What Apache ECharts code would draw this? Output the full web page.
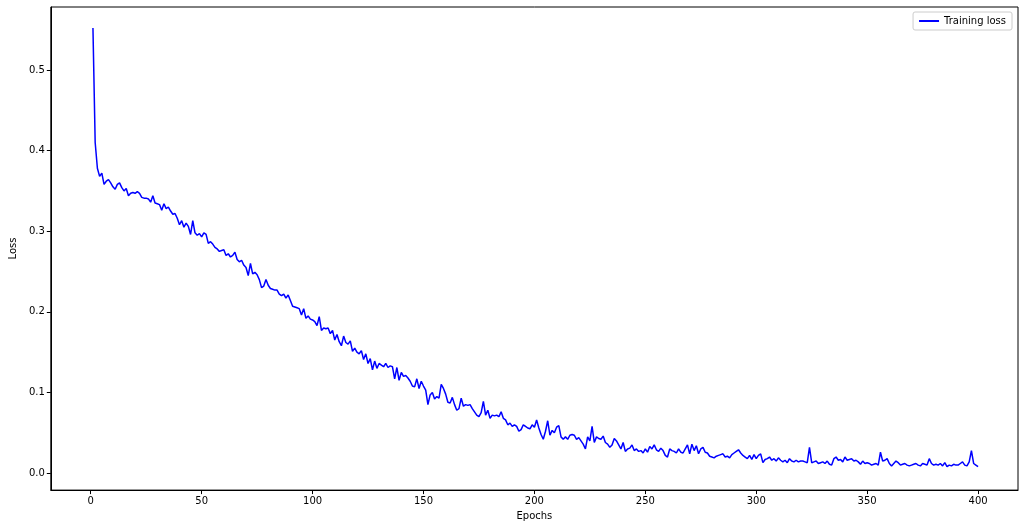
<!DOCTYPE html>
<html>
<head>
<meta charset="utf-8">
<script src="https://cdn.jsdelivr.net/npm/echarts@6/dist/echarts.min.js"></script>
<style>html,body{margin:0;padding:0;background:#fff}#chart{width:1024px;height:526px}</style>
</head>
<body>
<div id="chart"></div>
<script>
// training loss per epoch
const lossValues = [
  0.552,0.410,0.378,0.368,0.372,0.358,0.362,0.364,0.360,0.355,
  0.352,0.358,0.360,0.354,0.350,0.353,0.344,0.347,0.348,0.347,
  0.349,0.347,0.342,0.341,0.341,0.340,0.336,0.344,0.335,0.334,
  0.333,0.326,0.334,0.328,0.330,0.325,0.321,0.322,0.316,0.308,
  0.313,0.305,0.310,0.306,0.296,0.313,0.298,0.295,0.297,0.293,
  0.298,0.296,0.285,0.287,0.284,0.280,0.278,0.275,0.276,0.277,
  0.270,0.272,0.268,0.270,0.274,0.265,0.262,0.264,0.258,0.255,
  0.245,0.260,0.247,0.249,0.246,0.240,0.230,0.232,0.240,0.233,
  0.229,0.228,0.227,0.227,0.222,0.220,0.222,0.217,0.221,0.214,
  0.207,0.206,0.205,0.204,0.196,0.204,0.192,0.195,0.191,0.190,
  0.188,0.183,0.194,0.177,0.180,0.179,0.180,0.173,0.177,0.165,
  0.172,0.163,0.158,0.170,0.162,0.160,0.164,0.151,0.155,0.150,
  0.148,0.152,0.141,0.148,0.136,0.142,0.128,0.139,0.130,0.136,
  0.134,0.132,0.136,0.131,0.133,0.132,0.117,0.131,0.115,0.125,
  0.120,0.121,0.118,0.114,0.108,0.107,0.117,0.105,0.114,0.108,
  0.103,0.085,0.097,0.100,0.092,0.095,0.093,0.110,0.105,0.098,
  0.088,0.087,0.094,0.085,0.078,0.080,0.093,0.083,0.085,0.084,
  0.085,0.080,0.076,0.072,0.070,0.075,0.089,0.072,0.078,0.068,
  0.072,0.071,0.072,0.070,0.076,0.068,0.066,0.060,0.062,0.058,
  0.060,0.058,0.052,0.054,0.060,0.058,0.056,0.055,0.060,0.057,
  0.066,0.056,0.048,0.042,0.052,0.065,0.047,0.053,0.050,0.057,
  0.059,0.045,0.042,0.045,0.042,0.047,0.048,0.047,0.042,0.044,
  0.040,0.036,0.030,0.045,0.040,0.058,0.038,0.045,0.043,0.042,
  0.046,0.038,0.036,0.032,0.035,0.043,0.040,0.035,0.030,0.038,
  0.027,0.030,0.031,0.035,0.028,0.030,0.027,0.028,0.025,0.030,
  0.026,0.033,0.030,0.035,0.029,0.027,0.031,0.028,0.022,0.020,
  0.030,0.028,0.027,0.025,0.030,0.026,0.025,0.030,0.035,0.024,
  0.036,0.028,0.034,0.024,0.030,0.032,0.026,0.025,0.021,0.020,
  0.019,0.021,0.022,0.023,0.024,0.020,0.021,0.019,0.023,0.025,
  0.027,0.029,0.025,0.022,0.020,0.018,0.022,0.017,0.023,0.018,
  0.022,0.024,0.013,0.017,0.018,0.020,0.016,0.018,0.015,0.019,
  0.016,0.014,0.016,0.013,0.018,0.015,0.014,0.016,0.014,0.015,
  0.015,0.014,0.013,0.032,0.013,0.014,0.015,0.012,0.013,0.014,
  0.012,0.015,0.011,0.010,0.018,0.020,0.016,0.017,0.014,0.020,
  0.016,0.017,0.018,0.015,0.016,0.014,0.011,0.015,0.012,0.013,
  0.012,0.010,0.011,0.012,0.010,0.026,0.015,0.016,0.018,0.012,
  0.009,0.012,0.015,0.013,0.010,0.011,0.012,0.010,0.009,0.010,
  0.011,0.012,0.010,0.009,0.012,0.011,0.010,0.018,0.012,0.010,
  0.011,0.010,0.012,0.009,0.013,0.008,0.010,0.009,0.011,0.010,
  0.010,0.012,0.014,0.010,0.009,0.014,0.028,0.012,0.010,0.008
];
const epochs = lossValues.map((v, i) => i + 1);
const xTicks = [0, 50, 100, 150, 200, 250, 300, 350, 400];
const yTicks = [0, 0.1, 0.2, 0.3, 0.4, 0.5];

const chart = echarts.init(document.getElementById('chart'));
const font = 'DejaVu Sans';
chart.setOption({
  animation: false,
  textStyle: { fontFamily: font },
  grid: { left: 39, right: 6, top: 7, bottom: 34, show: true, borderColor: '#000', borderWidth: 1 },
  legend: {
    right: 12, top: 12,
    data: ['Training loss'],
    icon: 'path://M0,0 L20,0 L20,2 L0,2 Z',
    itemWidth: 20, itemHeight: 2,
    textStyle: { fontSize: 10, color: '#000', fontFamily: font },
    borderColor: '#ccc', borderWidth: 1, borderRadius: 2, padding: [4, 6]
  },
  xAxis: {
    type: 'value', min: -18, max: 418,
    name: 'Epochs', nameLocation: 'middle', nameGap: 20,
    nameTextStyle: { fontSize: 10, color: '#000' },
    axisLine: { onZero: false, lineStyle: { color: '#000' } },
    axisTick: { customValues: xTicks, length: 4, lineStyle: { color: '#000' } },
    axisLabel: { customValues: xTicks, fontSize: 10, color: '#000', margin: 6 },
    splitLine: { show: false }
  },
  yAxis: {
    type: 'value', min: -0.021, max: 0.578,
    name: 'Loss', nameLocation: 'middle', nameGap: 28,
    nameTextStyle: { fontSize: 10, color: '#000' },
    axisLine: { show: true, onZero: false, lineStyle: { color: '#000' } },
    axisTick: { show: true, customValues: yTicks, length: 4, lineStyle: { color: '#000' } },
    axisLabel: { customValues: yTicks, fontSize: 10, color: '#000', margin: 6, formatter: v => v.toFixed(1) },
    splitLine: { show: false }
  },
  series: [{
    name: 'Training loss', type: 'line', showSymbol: false,
    data: epochs.map((e, i) => [e, lossValues[i]]),
    lineStyle: { color: '#0000ff', width: 1.5 },
    itemStyle: { color: '#0000ff' }
  }]
});
</script>
</body>
</html>
